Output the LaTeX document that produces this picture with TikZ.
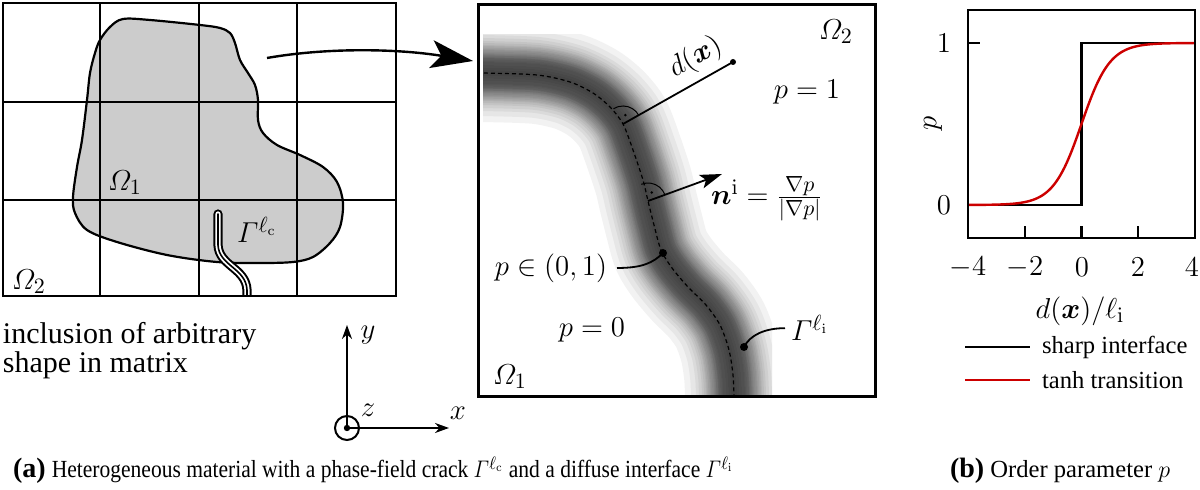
\documentclass[tikz,border=0pt]{standalone}
\usepackage{amsmath}
\usepackage{bm}
\usepackage{graphicx}
\usepackage[no-math]{fontspec}
\setmainfont{Liberation Serif}
\usetikzlibrary{arrows.meta,calc}
\definecolor{plotred}{RGB}{204,0,0}
\begin{document}
\begin{tikzpicture}[x=0.5pt,y=-0.5pt,
  every node/.style={inner sep=0pt, outer sep=0pt},
  lbl/.style={font=\fontsize{15}{12.5}\selectfont},
  captxt/.style={font=\fontsize{12.3}{14}\selectfont},
  boxline/.style={line width=1.3pt},
  gridl/.style={line width=1.1pt},
  thinl/.style={line width=0.9pt},
  dotnode/.style={circle, fill=black, minimum size=4pt},
  smalldot/.style={circle, fill=black, minimum size=3pt},
  rmark/.style={line width=0.5pt},
]
\useasboundingbox (0,0) rectangle (1200,490);

% ================= panel (a), left part =================
\fill[black!20] plot[smooth cycle, tension=0.55] coordinates {
 (100,40) (110,27) (123,19) (150,20) (200,25) (220,28) (230,33) (235,43) (240,60)
 (248,73) (255,85) (258,100) (258,120) (263,133) (277,145) (300,155) (323,167)
 (337,182) (343,203) (340,227) (330,243) (313,257) (293,262) (260,263) (217,262)
 (167,255) (117,242) (87,230) (75,213) (73,197) (77,167) (82,140) (87,100) (90,73) (95,53)};
\draw[gridl] (100,3) -- (100,296) (199,3) -- (199,296) (297,3) -- (297,296)
             (3,102) -- (396,102) (3,200) -- (396,200);
\draw[line width=1.1pt] plot[smooth cycle, tension=0.55] coordinates {
 (100,40) (110,27) (123,19) (150,20) (200,25) (220,28) (230,33) (235,43) (240,60)
 (248,73) (255,85) (258,100) (258,120) (263,133) (277,145) (300,155) (323,167)
 (337,182) (343,203) (340,227) (330,243) (313,257) (293,262) (260,263) (217,262)
 (167,255) (117,242) (87,230) (75,213) (73,197) (77,167) (82,140) (87,100) (90,73) (95,53)};
\begin{scope}
  \clip (0,0) rectangle (400,296);
  \foreach \lw/\col in {4.6pt/black, 2.6pt/white, 0.8pt/black}
    \draw[line width=\lw, \col, line cap=round]
      (218,214) -- (218,245) .. controls (219,266) and (246,268) .. (247,290) -- (247,305);
\end{scope}
\draw[boxline] (3,3) rectangle (396,296);
\node[lbl] (om1a) at (125,183) {$\varOmega_1$};
\node[lbl] (om2a) at (29,282) {$\varOmega_2$};
\node[lbl] (glc) at (257,230) {$\varGamma^{\ell_{\mathrm{c}}}$};

\coordinate (arrS) at (267,58);
\coordinate (arrE) at (473,61);
\draw[line width=1.2pt, -{Stealth[length=21pt,width=14pt,inset=5pt]}]
  (arrS) .. controls (330,47) and (400,49) .. (arrE);

\node[lbl, anchor=north west, align=left] (incl) at (3,322)
  {inclusion of arbitrary\\shape in matrix};

% coordinate triad
\node[circle, draw, line width=1pt, minimum size=12pt] (orig) at (347,428) {};
\fill (orig.center) circle[radius=1.6pt];
\coordinate (ytip) at (347,325);
\coordinate (xtip) at (449,428);
\draw[line width=1pt, -{Stealth[length=7pt,width=5pt]}] (orig.center) -- (ytip);
\draw[line width=1pt, -{Stealth[length=7pt,width=5pt]}] (orig.center) -- (xtip);
\node[lbl] (ylab) at (368,335) {$y$};
\node[lbl] (zlab) at (368,410) {$z$};
\node[lbl] (xlab) at (458,413) {$x$};

% ================= panel (a), zoomed interface =================
\begin{scope}
  \clip (483,35) rectangle (772,397);
  \foreach \w in {3,5.5,8,11,12,13.5,15,15.5,16,17.5,18,19,20,21.5,23,24,25.5,27,28,30,32,35,38,43,49}
    \draw[line width=\w pt, black, opacity=0.05] plot[smooth, tension=0.5] coordinates {
      (470,73) (483,73) (537,75) (570,82) (593,93) (610,107) (623,124) (633,150)
      (643,180) (648,201) (654,225) (661,250) (672,268) (688,287) (706,305) (720,325)
      (729,350) (733,375) (734,397) (734,420)};
\end{scope}
\begin{scope}
  \clip (483,0) rectangle (875,396);
  \draw[dash pattern=on 2pt off 1.5pt, line width=0.6pt] plot[smooth, tension=0.5] coordinates {
      (470,73) (483,73) (537,75) (570,82) (593,93) (610,107) (623,124) (633,150)
      (643,180) (648,201) (654,225) (661,250) (672,268) (688,287) (706,305) (720,325)
      (729,350) (733,375) (734,397) (734,420)};
\end{scope}
\draw[boxline, line width=1.5pt] (478,5) rectangle (875,397);

% distance d(x)
\coordinate (Fd) at (623,124);
\node[smalldot] (Ed) at (733,62) {};
\draw[thinl] (Fd) -- node[sloped, above=4pt, pos=0.76, lbl] (dlbl) {$d(\bm{x})$} (Ed.center);
\draw[rmark] ([shift={(29:9pt)}]Fd) arc[start angle=29, end angle=122, radius=9pt];
\fill ([shift={(75:4.6pt)}]Fd) circle[radius=0.7pt];

% normal vector
\coordinate (Fn) at (648,201);
\coordinate (Tn) at (722,174);
\draw[thinl, -{Stealth[length=11pt,width=7pt,inset=2.5pt]}] (Fn) -- (Tn);
\draw[rmark] ([shift={(20:9pt)}]Fn) arc[start angle=20, end angle=112, radius=9pt];
\fill ([shift={(66:4.6pt)}]Fn) circle[radius=0.7pt];
\node[lbl, anchor=west] (nlbl) at (711,199) {$\bm{n}^{\mathrm{i}} = \frac{\nabla p}{|\nabla p|}$};

\node[lbl] (p1) at (807,92) {$p = 1$};
\node[lbl] (om2b) at (836,32) {$\varOmega_2$};
\node[lbl, anchor=east] (pin) at (607,268) {$p \in (0,1)$};
\node[dotnode] (dot1) at (663,253) {};
\draw[thinl] ([xshift=5pt]pin.east) .. controls +(25,0) and +(-10,10) .. (dot1.center);
\node[lbl] (p0) at (592,330) {$p = 0$};
\node[lbl, anchor=base west] (gli) at (791,341) {$\varGamma^{\ell_{\mathrm{i}}}$};
\node[dotnode] (dot2) at (744,347) {};
\draw[thinl] (dot2.center) .. controls +(6,-12) and +(-20,0) .. ([xshift=-3pt]gli.west);
\node[lbl] (om1b) at (510,377) {$\varOmega_1$};

% ================= panel (b) =================
\begin{scope}[shift={(1081.5,205)}, x=14.1875pt, y=81pt]
  \foreach \t in {-2,0,2} \draw[line width=1.1pt] (\t,-0.2037) -- ++(0,6pt);
  \foreach \t in {0,1} \draw[line width=1.1pt] (-4,\t) -- ++(6pt,0);
  \draw[line width=1.2pt] (-4,0) -- (0,0) -- (0,1) -- (4,1);
  \draw[plotred, line width=1.2pt] plot[domain=-4:4, samples=121, smooth] (\x,{(1+tanh(\x))/2});
  \draw[line width=1.2pt] (-4,-0.2037) rectangle (4,1.2037);
\end{scope}
\node[lbl] (tm4) at (968,267) {$-4$};
\node[lbl] (tm2) at (1025,267) {$-2$};
\node[lbl] (t0) at (1082,267) {$0$};
\node[lbl] (t2) at (1138,267) {$2$};
\node[lbl] (t4) at (1192,267) {$4$};
\node[lbl] (ty1) at (944,43) {$1$};
\node[lbl] (ty0) at (944,205) {$0$};
\node[lbl, rotate=90] (plab) at (933,123) {$p$};
\node[lbl] (dlab) at (1080,311) {$d(\bm{x})/\ell_{\mathrm{i}}$};
\coordinate (l1a) at (965,347);
\coordinate (l1b) at (1030,347);
\coordinate (l2a) at (965,380);
\coordinate (l2b) at (1030,380);
\draw[line width=1.2pt] (l1a) -- (l1b);
\draw[plotred, line width=1.2pt] (l2a) -- (l2b);
\node[captxt, anchor=west] (leg1) at (1042,347) {sharp interface};
\node[captxt, anchor=west] (leg2) at (1042,380) {tanh transition};

% captions
\node[captxt, anchor=base west] (capa) at (13,478)
  {{\fontsize{14}{14}\selectfont\bfseries (a)} \scalebox{0.875}[1]{Heterogeneous material with a phase-field crack $\varGamma^{\ell_{\mathrm{c}}}$ and a diffuse interface $\varGamma^{\ell_{\mathrm{i}}}$}};
\node[captxt, anchor=base west] (capb) at (950,478)
  {{\fontsize{14}{14}\selectfont\bfseries (b)} Order parameter $p$};
\end{tikzpicture}
\end{document}
